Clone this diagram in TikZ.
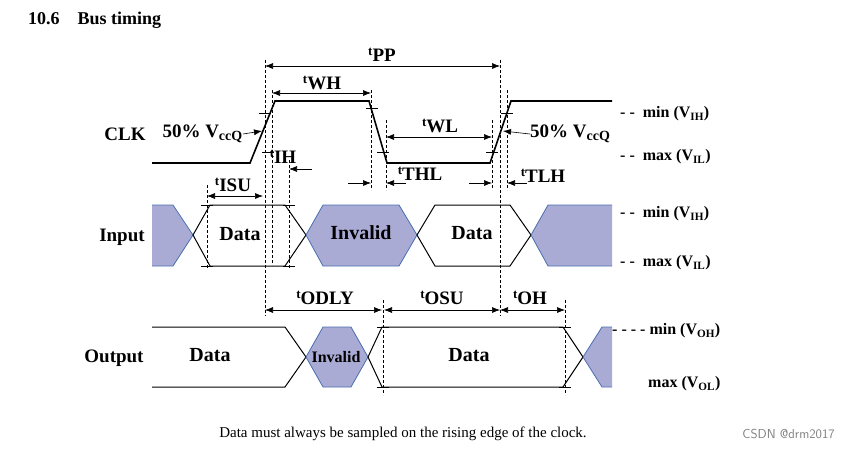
\documentclass[tikz,border=0pt]{standalone}
\usepackage{fontspec}
\setmainfont{Liberation Serif}
\usetikzlibrary{arrows.meta}
\definecolor{inv}{HTML}{A9ABD5}
\definecolor{invl}{HTML}{4A6FB0}
\newcommand{\tl}[1]{\raisebox{6pt}{\fontsize{13}{13}\selectfont t}#1}
\begin{document}
\begin{tikzpicture}[x=1pt,y=-1pt,
  lbl/.style={font=\bfseries\fontsize{19}{19}\selectfont, inner sep=0pt},
  sig/.style={font=\bfseries\fontsize{20}{20}\selectfont, inner sep=0pt},
  lev/.style={font=\bfseries\fontsize{16}{16}\selectfont, inner sep=0pt, anchor=west},
  dsh/.style={densely dashed, line width=0.5pt},
  dim/.style={{Latex[length=8pt,width=6pt]}-{Latex[length=8pt,width=6pt]}, line width=0.6pt},
  tip/.style={-{Latex[length=8pt,width=6pt]}, line width=0.6pt},
  clk/.style={line width=1.6pt},
  bus/.style={line width=1pt},
  blue/.style={fill=inv, draw=invl, line width=0.8pt},
  tk/.style={line width=0.5pt}]
\useasboundingbox (0,0) rectangle (849,448);
\node[anchor=west, font=\bfseries\fontsize{18}{18}\selectfont, inner sep=0pt] (title) at (28,20) {10.6\quad Bus timing};
% dashed verticals
\foreach \x/\a/\b in {265/60/316, 272/90/265, 289/160/268, 371/90/190, 386/120/190, 492/120/190, 500/60/316, 507/90/190, 207/185/268, 383/300/395, 565/300/395}
  \draw[dsh] (\x,\a) -- (\x,\b);
% CLK
\draw[clk] (152,163) -- (250,163) -- (275,101) -- (369,101) -- (387,163) -- (490,163) -- (511,101) -- (612,101);
\draw[tk] (259,113)--(271,113) (262,152)--(274,152) (366,108)--(378,108) (377,152)--(389,152) (486,152)--(498,152) (501,113)--(513,113);
\node[lbl] (clkl) at (125,134) {CLK};
\node[lbl, anchor=east] (v1) at (243,134) {50\% V\textsubscript{\fontsize{14}{14}\selectfont ccQ}};
\node[lbl, anchor=west] (v2) at (530,134) {50\% V\textsubscript{\fontsize{14}{14}\selectfont ccQ}};
\coordinate (p50a) at (262,131); \coordinate (p50b) at (503,131);
\draw[tip] (v1.east) -- (p50a);
\draw[tip] (v2.west) -- (p50b);
% dimension arrows
\coordinate (ppa) at (265,66); \coordinate (ppb) at (500,66);
\draw[dim] (ppa) -- (ppb);
\node[lbl] (tpp) at (382,55) {\tl{PP}};
\coordinate (wha) at (272,93); \coordinate (whb) at (371,93);
\draw[dim] (wha) -- (whb);
\node[lbl] (twh) at (322,83) {\tl{WH}};
\coordinate (wla) at (386,137); \coordinate (wlb) at (492,137);
\draw[dim] (wla) -- (wlb);
\node[lbl] (twl) at (440,126) {\tl{WL}};
\node[lbl] (tih) at (283,157) {\tl{IH}};
\coordinate (iha) at (312,169); \coordinate (ihb) at (289,169);
\draw[tip] (iha) -- (ihb);
\coordinate (thla) at (348,183); \coordinate (thlb) at (371,183);
\coordinate (thlc) at (406,183); \coordinate (thld) at (386,183);
\draw[tip] (thla) -- (thlb); \draw[tip] (thlc) -- (thld);
\node[lbl] (tthl) at (420,174) {\tl{THL}};
\coordinate (tlha) at (469,183); \coordinate (tlhb) at (492,183);
\coordinate (tlhc) at (527,183); \coordinate (tlhd) at (507,183);
\draw[tip] (tlha) -- (tlhb); \draw[tip] (tlhc) -- (tlhd);
\node[lbl] (ttlh) at (543,176) {\tl{TLH}};
\coordinate (isua) at (207,196); \coordinate (isub) at (263,196);
\draw[dim] (isua) -- (isub);
\node[lbl] (tisu) at (233,185) {\tl{ISU}};
% Input row
\fill[inv] (152,205) -- (173,205) -- (193,235) -- (173,266) -- (152,266) -- cycle;
\draw[invl, line width=0.8pt] (152,205) -- (173,205) -- (193,235) -- (173,266) -- (152,266);
\draw[bus] (193,235) -- (210,205) -- (285,205) -- (306,235) -- (285,266) -- (210,266) -- cycle;
\node[sig] (d1) at (240,234) {Data};
\draw[blue] (306,235) -- (323,205) -- (399,205) -- (417,235) -- (399,266) -- (323,266) -- cycle;
\node[sig] (inv1) at (361,233) {Invalid};
\draw[bus] (417,235) -- (435,205) -- (510,205) -- (531,235) -- (510,266) -- (435,266) -- cycle;
\node[sig] (d2) at (472,233) {Data};
\fill[inv] (612,205) -- (548,205) -- (531,235) -- (548,266) -- (612,266) -- cycle;
\draw[invl, line width=0.8pt] (612,205) -- (548,205) -- (531,235) -- (548,266) -- (612,266);
\draw[tk] (201,205)--(213,205) (201,266)--(213,266) (283,205)--(295,205) (283,266)--(295,266);
\node[lbl] (inl) at (122,237) {Input};
% Output row
\node[lbl] (todly) at (325,298) {\tl{ODLY}};
\node[lbl] (tosu) at (442,298) {\tl{OSU}};
\node[lbl] (toh) at (530,298) {\tl{OH}};
\coordinate (oda) at (265,310); \coordinate (odb) at (382,310);
\coordinate (osa) at (384,310); \coordinate (osb) at (500,310);
\coordinate (oha) at (500,310); \coordinate (ohb) at (565,310);
\draw[dim] (oda) -- (odb); \draw[dim] (osa) -- (osb); \draw[dim] (oha) -- (ohb);
\draw[bus] (152,327) -- (285,327) -- (306,357) -- (285,387) -- (152,387);
\node[sig] (d3) at (210,355) {Data};
\draw[blue] (306,357) -- (323,327) -- (351,327) -- (368,357) -- (351,387) -- (323,387) -- cycle;
\node[sig, font=\bfseries\fontsize{16}{16}\selectfont] (inv2) at (336,357) {Invalid};
\draw[bus] (368,357) -- (382,327) -- (563,327) -- (583,357) -- (563,387) -- (382,387) -- cycle;
\node[sig] (d4) at (469,355) {Data};
\fill[inv] (612,327) -- (602,327) -- (583,357) -- (602,387) -- (612,387) -- cycle;
\draw[invl, line width=0.8pt] (612,327) -- (602,327) -- (583,357) -- (602,387) -- (612,387);
\draw[tk] (377,327)--(389,327) (377,387)--(389,387) (559,327)--(571,327) (559,387)--(571,387);
\node[lbl] (outl) at (114,358) {Output};
% level labels
\node[lev] (l1) at (620,114) {- -\ \ min (V\textsubscript{IH})};
\node[lev] (l2) at (620,157) {- -\ \ max (V\textsubscript{IL})};
\node[lev] (l3) at (620,214) {- -\ \ min (V\textsubscript{IH})};
\node[lev] (l4) at (620,263) {- -\ \ max (V\textsubscript{IL})};
\node[lev] (l5) at (612,331) {- - - -\ min (V\textsubscript{OH})};
\node[lev] (l6) at (648,384) {max (V\textsubscript{OL})};
\node[font=\fontsize{15}{15}\selectfont, inner sep=0pt] (cap) at (403,434) {Data must always be sampled on the rising edge of the clock.};
\node[font=\sffamily\fontsize{13}{13}\selectfont, text=gray, inner sep=0pt, anchor=east] (wm) at (835,434) {CSDN @drm2017};
\end{tikzpicture}
\end{document}
